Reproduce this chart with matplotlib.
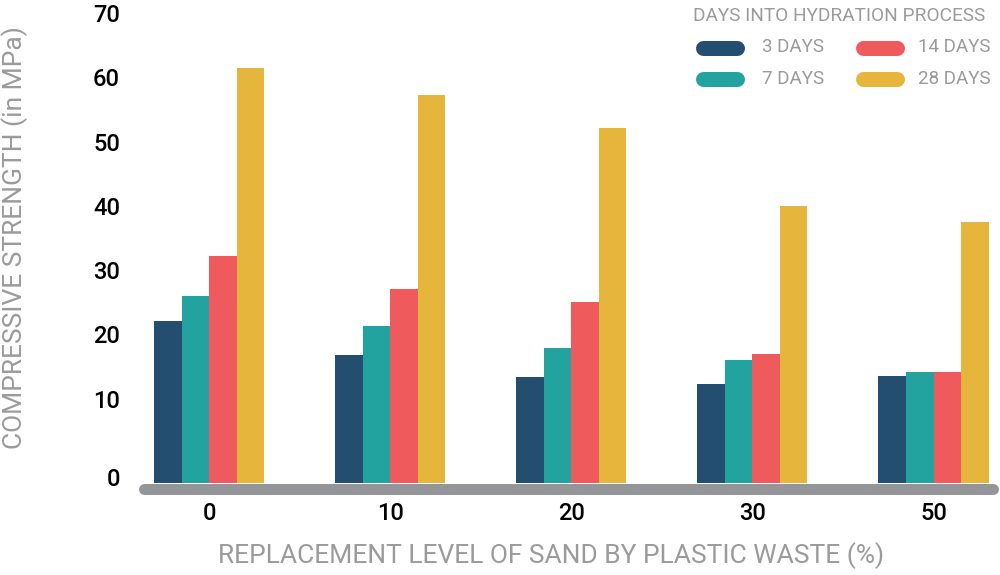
import numpy as np
import matplotlib
matplotlib.use("Agg")
import matplotlib.pyplot as plt
from matplotlib.lines import Line2D
import matplotlib.transforms as mtransforms

plt.rcParams['font.family'] = ['Roboto', 'DejaVu Sans']

# data
replacement = ["0", "10", "20", "30", "50"]
series = ["3 DAYS", "7 DAYS", "14 DAYS", "28 DAYS"]
days_3 = [22.1, 16.7, 13.4, 12.3, 13.5]
days_7 = [26.0, 21.3, 17.9, 16.0, 14.1]
days_14 = [32.2, 27.1, 25.0, 17.0, 14.1]
days_28 = [61.5, 57.3, 52.1, 40.0, 37.5]
yticks = [0, 10, 20, 30, 40, 50, 60, 70]

colors = ["#234e6f", "#22a39f", "#ef5b5c", "#e6b53c"]
gray = "#9b9b9b"
floor = -3.16  # bars rise from the grey rail, a little under the "0" label

fig = plt.figure(figsize=(10, 5.75), dpi=100)
ax = fig.add_axes([0.138, 0.16, 0.862, 0.8169])

x = np.arange(len(replacement))
w = 0.152
for i, vals in enumerate([days_3, days_7, days_14, days_28]):
    v = np.array(vals)
    ax.bar(x + (i - 1.5) * w, v - floor, w, bottom=floor, color=colors[i],
           linewidth=0, zorder=3)

ax.set_xlim(-0.393, 4.367)
ax.set_ylim(floor, 70)
for s in ax.spines.values():
    s.set_visible(False)

# grey rail under the bars
ax.plot([0.0064, 0.9913], [-0.0138, -0.0138], transform=ax.transAxes,
        color="#939598", lw=7.9, solid_capstyle="round", clip_on=False, zorder=2)

ax.set_xticks(x)
ax.set_xticklabels(replacement)
ax.set_yticks(yticks)
ax.set_yticklabels([str(t) for t in yticks])
ax.tick_params(length=0, labelsize=17, labelcolor="black")
ax.tick_params(axis="y", pad=13)
ax.tick_params(axis="x", pad=14)
for lab in ax.get_yticklabels() + ax.get_xticklabels():
    lab.set_fontweight("medium")
# the "0" label sits lower in the original
zero = ax.get_yticklabels()[0]
zero.set_transform(zero.get_transform() +
                   mtransforms.ScaledTranslation(0, -14 / 100, fig.dpi_scale_trans))

fig.text(0.015, 1 - 238 / 575, "COMPRESSIVE STRENGTH (in MPa)", rotation=90,
         ha="center", va="center", fontsize=19, color=gray)
fig.text(551 / 1000, 1 - 556 / 575, "REPLACEMENT LEVEL OF SAND BY PLASTIC WASTE (%)",
         ha="center", va="center", fontsize=19, color=gray)

# legend
fig.text(985 / 1000, 1 - 16 / 575, "DAYS INTO HYDRATION PROCESS",
         ha="right", va="center", fontsize=13.7, color=gray)
pill_x = [(703 / 1000, 737 / 1000), (863 / 1000, 897 / 1000)]
text_x = [762 / 1000, 918 / 1000]
row_y = [1 - 47.5 / 575, 1 - 79 / 575]
for i, name in enumerate(series):
    col, row = i // 2, i % 2
    fig.add_artist(Line2D(pill_x[col], [row_y[row]] * 2, color=colors[i],
                          lw=10.8, solid_capstyle="round", transform=fig.transFigure))
    fig.text(text_x[col], row_y[row], name, ha="left", va="center",
             fontsize=13.5, color=gray)

fig.savefig("out.png", dpi=100)
